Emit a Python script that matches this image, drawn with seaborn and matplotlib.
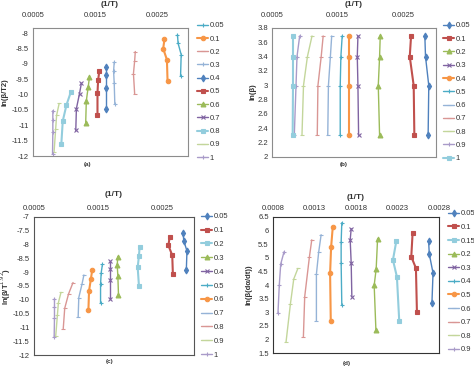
import matplotlib
matplotlib.use('Agg')
import matplotlib.pyplot as plt
import seaborn as sns

# ---------------- data ----------------
conv_abc = ['0.05', '0.1', '0.2', '0.3', '0.4', '0.5', '0.6', '0.7', '0.8', '0.9', '1']
# 1/T for each conversion at beta = 40, 30, 20, 10 (shared by panels a, b, c)
invT_abc = [
    [0.00283, 0.00284, 0.00289, 0.00288],
    [0.00262, 0.00260, 0.00266, 0.00267],
    [0.00215, 0.00214, 0.00212, 0.00214],
    [0.00181, 0.00180, 0.00181, 0.00182],
    [0.00168, 0.00168, 0.00168, 0.00168],
    [0.00157, 0.00155, 0.00154, 0.00154],
    [0.00141, 0.00139, 0.00136, 0.00135],
    [0.00128, 0.00125, 0.00120, 0.00119],
    [0.00111, 0.00104, 0.00098, 0.000957],
    [0.000922, 0.000881, 0.000866, 0.00084],
    [0.00082, 0.00082, 0.00082, 0.000815],
]
# panel (a): ln(beta/T2)
y_a = [
    [-8.046, -8.327, -8.697, -9.397],
    [-8.200, -8.503, -8.863, -9.549],
    [-8.596, -8.893, -9.317, -9.991],
    [-8.940, -9.239, -9.633, -10.315],
    [-9.089, -9.377, -9.782, -10.475],
    [-9.224, -9.538, -9.956, -10.649],
    [-9.439, -9.756, -10.205, -10.913],
    [-9.633, -9.968, -10.455, -11.165],
    [-9.918, -10.336, -10.860, -11.601],
    [-10.289, -10.668, -11.108, -11.862],
    [-10.524, -10.811, -11.217, -11.922],
]
# panel (b): ln(beta)
ln_beta = [3.689, 3.401, 2.996, 2.303]
# panel (c): ln(beta/T^1.92)
y_c = [
    [-7.577, -7.858, -8.230, -8.929],
    [-7.725, -8.027, -8.389, -9.075],
    [-8.104, -8.401, -8.825, -9.500],
    [-8.435, -8.733, -9.128, -9.811],
    [-8.578, -8.866, -9.271, -9.964],
    [-8.708, -9.020, -9.438, -10.131],
    [-8.914, -9.230, -9.677, -10.384],
    [-9.100, -9.433, -9.917, -10.626],
    [-9.374, -9.787, -10.306, -11.045],
    [-9.730, -10.105, -10.544, -11.295],
    [-9.955, -10.243, -10.648, -11.353],
]
# panel (d): Friedman
conv_d = ['0.05', '0.1', '0.15', '0.2', '0.3', '0.4', '0.5', '0.6', '0.7', '0.8', '0.9']
invT_d = [
    [0.002675, 0.002683, 0.002728, 0.002715],
    [0.002482, 0.002466, 0.002522, 0.002534],
    [0.002285, 0.002245, 0.002293, 0.002321],
    [0.002060, 0.002043, 0.002019, 0.002040],
    [0.001742, 0.001730, 0.001742, 0.001750],
    [0.001629, 0.001621, 0.001621, 0.001629],
    [0.001520, 0.001500, 0.001488, 0.001496],
    [0.001380, 0.001350, 0.001323, 0.001323],
    [0.001267, 0.001239, 0.001182, 0.001166],
    [0.001100, 0.001050, 0.001010, 0.000957],
    [0.000933, 0.000893, 0.000876, 0.000860],
]
y_d = [
    [5.60, 5.14, 4.44, 3.35],
    [5.91, 5.04, 4.62, 3.02],
    [5.60, 4.92, 4.30, 2.67],
    [5.70, 4.59, 3.99, 2.33],
    [6.07, 5.66, 4.81, 3.57],
    [6.29, 5.57, 4.80, 3.27],
    [6.13, 5.39, 4.43, 2.67],
    [5.85, 5.20, 4.40, 2.67],
    [5.66, 5.04, 3.57, 2.08],
    [4.61, 4.22, 3.31, 1.90],
    [5.22, 4.77, 4.01, 2.97],
]

# ---------------- styles ----------------
BLUE, RED, GREEN, PURPLE = '#4F81BD', '#C0504D', '#9BBB59', '#8064A2'
TEAL, ORANGE, LBLUE, PINK = '#4BACC6', '#F79646', '#95B3D7', '#D99694'
OLIVE, LAV, LTEAL = '#C3D69B', '#A99BC9', '#93CDDD'

col_a = [TEAL, ORANGE, PINK, LBLUE, BLUE, RED, GREEN, PURPLE, LTEAL, OLIVE, LAV]
mk_a = ['+', 'o', '_', '+', 'd', 's', '^', 'x', 's', '_', '+']
col_b = [BLUE, RED, GREEN, PURPLE, ORANGE, TEAL, LBLUE, PINK, OLIVE, LAV, LTEAL]
mk_b = ['d', 's', '^', 'x', 'o', '+', '_', '_', '_', '+', 's']
col_c = [BLUE, RED, LTEAL, GREEN, PURPLE, TEAL, ORANGE, LBLUE, PINK, OLIVE, LAV]
mk_c = ['d', 's', 's', '^', 'x', '+', 'o', '_', '_', '_', '+']
col_d = [BLUE, RED, LTEAL, GREEN, PURPLE, TEAL, ORANGE, LBLUE, PINK, OLIVE, LAV]
mk_d = ['d', 's', 's', '^', 'x', '+', 'o', '_', '_', '_', '+']

sns.set_theme(style='white')
plt.rcParams['font.family'] = ['Liberation Sans', 'DejaVu Sans']
plt.rcParams['mathtext.fontset'] = 'dejavusans'

W, H = 474, 366
fig = plt.figure(figsize=(W / 100, H / 100), dpi=100)
fig.patch.set_facecolor('white')
FS = 5.5
TXT = '#333333'


def px_axes(l, t, r, b):
    return fig.add_axes([l / W, 1 - b / H, (r - l) / W, (b - t) / H])


def draw(ax, xs_list, ys_list, labels, cols, mks, xlim, xticks, xticklabels,
         ylim, yticks, yticklabels, edge, xpad):
    for xs, ys, lab, c, m in zip(xs_list, ys_list, labels, cols, mks):
        big = m in ('s', 'o')
        sns.lineplot(x=xs, y=ys, ax=ax, color=c, marker=m, sort=False, estimator=None,
                     markersize=3.2 if big else 3.5, markeredgecolor=c, markerfacecolor=c,
                     markeredgewidth=0.8, linewidth=1.5 if big else 1.0, label=lab)
    ax.set_xlim(*xlim)
    ax.set_ylim(*ylim)
    ax.set_xticks(xticks)
    ax.set_xticklabels(xticklabels)
    ax.set_yticks(yticks)
    ax.set_yticklabels(yticklabels)
    ax.xaxis.tick_top()
    ax.tick_params(axis='both', length=0, labelsize=FS, colors=TXT, pad=3)
    ax.tick_params(axis='x', pad=xpad)
    ax.set_xlabel('')
    ax.set_ylabel('')
    for s in ax.spines.values():
        s.set_visible(True)
        s.set_color(edge)
        s.set_linewidth(0.8)
    ax.set_facecolor('white')
    if ax.get_legend():
        ax.get_legend().remove()


def legend(ax, x, y, spacing):
    h, l = ax.get_legend_handles_labels()
    fig.legend(h, l, loc='upper left', bbox_to_anchor=(x / W, 1 - y / H),
               frameon=False, fontsize=FS, handlelength=1.5, handletextpad=0.15,
               labelspacing=spacing, borderpad=0, borderaxespad=0, labelcolor=TXT)


# -------- panel (a)
ax_a = px_axes(33, 28, 188, 156)
draw(ax_a, invT_abc, y_a, conv_abc, col_a, mk_a, (0.0005, 0.003),
     [0.0005, 0.0015, 0.0025], ['0.0005', '0.0015', '0.0025'],
     (-12, -7.83), [-12 + 0.5 * i for i in range(9)],
     ['-12', '-11.5', '-11', '-10.5', '-10', '-9.5', '-9', '-8.5', '-8'], '#8c8c8c', 6.5)
legend(ax_a, 197, 22, 0.77)

# -------- panel (b)
ax_b = px_axes(272, 28, 436, 157)
draw(ax_b, invT_abc, [ln_beta] * len(conv_abc), conv_abc, col_b, mk_b, (0.0005, 0.003),
     [0.0005, 0.0015, 0.0025], ['0.0005', '0.0015', '0.0025'],
     (2, 3.8), [2 + 0.2 * i for i in range(10)],
     ['2', '2.2', '2.4', '2.6', '2.8', '3', '3.2', '3.4', '3.6', '3.8'], '#8c8c8c', 6.5)
legend(ax_b, 443, 22, 0.78)

# -------- panel (c)
ax_c = px_axes(34, 217, 194, 355)
draw(ax_c, invT_abc, y_c, conv_abc, col_c, mk_c, (0.0005, 0.003),
     [0.0005, 0.0015, 0.0025], ['0.0005', '0.0015', '0.0025'],
     (-12, -7), [-12 + 0.5 * i for i in range(11)],
     ['-12', '-11.5', '-11', '-10.5', '-10', '-9.5', '-9', '-8.5', '-8', '-7.5', '-7'], '#555555', 3.5)
legend(ax_c, 201, 213, 0.85)

# -------- panel (d)
ax_d = px_axes(273, 217, 439, 353)
draw(ax_d, invT_d, y_d, conv_d, col_d, mk_d, (0.0008, 0.0028),
     [0.0008, 0.0013, 0.0018, 0.0023, 0.0028], ['0.0008', '0.0013', '0.0018', '0.0023', '0.0028'],
     (1.5, 6.5), [1.5 + 0.5 * i for i in range(11)],
     ['1.5', '2', '2.5', '3', '3.5', '4', '4.5', '5', '5.5', '6', '6.5'], '#333333', 3.5)
legend(ax_d, 448, 210, 0.82)

# -------- titles, axis labels, panel tags
for (x, y) in [(110, 4), (354, 4), (114, 195), (356, 197)]:
    fig.text(x / W, 1 - y / H, '(1/T)', ha='center', va='center', fontsize=6,
             fontweight='bold', color=TXT)
ylabs = [('ln(β/T2)', 5, 92), ('ln(β)', 253, 92), ('ln(β/T$^{1.92}$)', 6, 286),
         ('ln(β(dα/dt))', 249, 285)]
for t, x, y in ylabs:
    fig.text(x / W, 1 - y / H, t, ha='center', va='center', rotation=90,
             fontsize=FS, fontweight='bold', color=TXT)
for t, x, y in [('(a)', 88, 164), ('(b)', 344, 164), ('(c)', 110, 362), ('(d)', 347, 363)]:
    fig.text(x / W, 1 - y / H, t, ha='center', va='center', fontsize=4.5,
             fontweight='bold', color=TXT)

fig.savefig('out.png', dpi=100, facecolor='white')
